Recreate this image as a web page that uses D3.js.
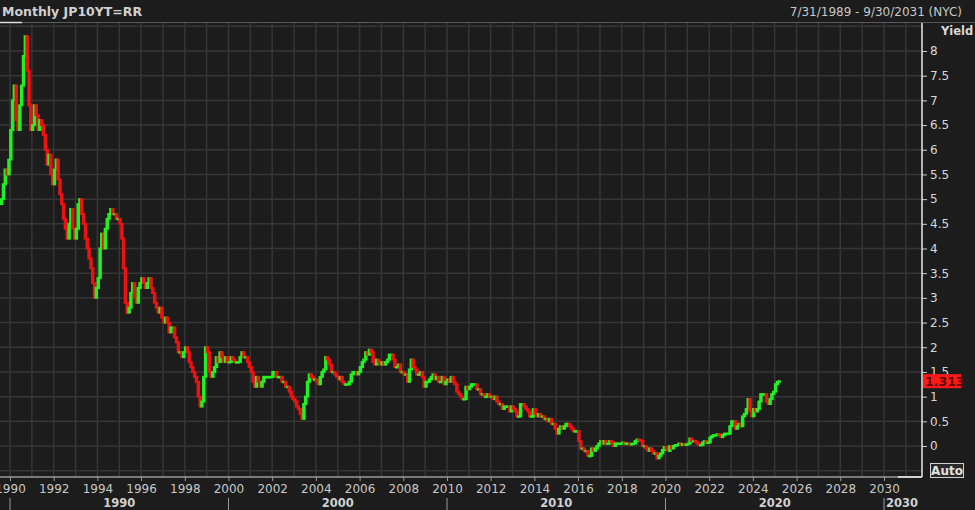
<!DOCTYPE html>
<html><head><meta charset="utf-8">
<script src="https://cdn.jsdelivr.net/npm/d3@7"></script>
<style>body{margin:0;background:#1c1c1c}svg{display:block}text{font-family:"DejaVu Sans",sans-serif}</style>
</head><body><svg id="c" width="975" height="510"></svg>
<script>
const startYear = 1989, startMonth = 7; // Aug 1989 (0-based month)
const closes = [
 5.0,5.3,5.6,5.5,5.8,
 6.4,7.0,7.3,6.6,6.4,6.9,7.3,7.9,8.3,7.6,6.9,6.4,
 6.5,6.9,6.7,6.4,6.6,6.5,6.3,6.0,5.7,5.9,5.5,5.3,
 5.6,5.8,5.4,5.1,4.9,4.6,4.4,4.2,4.5,4.8,4.4,4.2,
 4.4,4.9,5.0,4.7,4.5,4.2,4.0,3.8,3.6,3.3,3.0,3.2,
 3.4,4.0,4.3,4.0,4.4,4.6,4.7,4.8,4.7,4.7,4.6,4.6,
 4.5,4.2,3.6,2.9,2.7,2.8,3.1,3.3,3.0,2.9,3.2,3.3,
 3.4,3.3,3.2,3.3,3.4,3.2,3.1,2.9,2.8,2.7,2.8,2.6,
 2.5,2.6,2.5,2.3,2.4,2.4,2.2,2.1,1.9,1.9,1.8,1.9,
 2.0,1.9,1.7,1.6,1.5,1.4,1.3,1.0,0.8,0.9,1.4,2.0,
 1.9,1.5,1.4,1.5,1.6,1.8,1.7,1.9,1.8,1.7,1.8,1.7,
 1.7,1.8,1.75,1.7,1.7,1.7,1.8,1.9,1.8,1.8,1.7,1.6,
 1.5,1.3,1.2,1.4,1.3,1.2,1.3,1.4,1.4,1.4,1.4,1.4,
 1.5,1.5,1.4,1.4,1.4,1.3,1.3,1.2,1.2,1.1,1.0,0.95,
 0.9,0.8,0.75,0.65,0.55,0.85,1.0,1.3,1.45,1.4,1.35,1.35,
 1.3,1.25,1.4,1.5,1.55,1.8,1.75,1.65,1.5,1.5,1.45,1.4,
 1.35,1.4,1.3,1.25,1.25,1.25,1.3,1.45,1.5,1.5,1.45,1.5,
 1.6,1.7,1.75,1.9,1.85,1.95,1.9,1.7,1.65,1.75,1.7,1.65,
 1.7,1.65,1.7,1.75,1.85,1.85,1.75,1.6,1.6,1.65,1.5,1.5,
 1.45,1.45,1.3,1.55,1.75,1.6,1.55,1.45,1.45,1.5,1.4,1.2,
 1.3,1.3,1.35,1.4,1.45,1.35,1.4,1.3,1.3,1.4,1.25,1.3,
 1.35,1.3,1.4,1.3,1.25,1.1,1.05,1.0,0.95,0.95,1.2,1.15,
 1.2,1.25,1.25,1.25,1.15,1.15,1.05,1.05,1.0,1.0,1.05,1.0,
 1.0,0.95,1.0,0.9,0.85,0.85,0.75,0.8,0.8,0.8,0.7,0.8,
 0.75,0.7,0.6,0.6,0.85,0.85,0.8,0.75,0.7,0.6,0.6,0.75,
 0.65,0.6,0.65,0.6,0.6,0.55,0.55,0.5,0.55,0.45,0.45,0.35,
 0.25,0.35,0.4,0.35,0.4,0.45,0.45,0.4,0.35,0.3,0.3,0.3,
 0.1,-0.05,-0.05,-0.1,-0.1,-0.2,-0.2,-0.05,-0.1,-0.05,0.0,0.05,
 0.1,0.05,0.1,0.05,0.05,0.1,0.08,0.0,0.05,0.05,0.05,0.05,
 0.07,0.05,0.05,0.05,0.03,0.04,0.05,0.1,0.13,0.12,0.1,0.0,
 0.0,-0.05,-0.1,-0.05,-0.1,-0.15,-0.15,-0.25,-0.2,-0.15,-0.08,-0.02,
 -0.05,-0.1,0.0,-0.05,0.0,0.02,0.02,0.05,0.02,0.04,0.02,0.03,
 0.05,0.15,0.1,0.1,0.08,0.05,0.02,0.02,0.07,0.1,0.07,0.07,
 0.17,0.2,0.22,0.22,0.24,0.23,0.18,0.22,0.25,0.25,0.25,0.4,
 0.5,0.5,0.35,0.4,0.45,0.4,0.6,0.65,0.75,0.95,0.7,0.6,
 0.75,0.7,0.75,0.9,1.05,1.05,1.05,0.9,0.85,0.95,1.05,1.1,
 1.25,1.3,1.313
];
const firstOpen = 4.9;
const yTicks = [0,0.5,1,1.5,2,2.5,3,3.5,4,4.5,5,5.5,6,6.5,7,7.5,8];
const yearTicks = [1990,1992,1994,1996,1998,2000,2002,2004,2006,2008,2010,2012,2014,2016,2018,2020,2022,2024,2026,2028,2030];
const decades = [1990,2000,2010,2020,2030];
const lastValue = "1.313";

const svg = d3.select("#c");
svg.append("rect").attr("width",975).attr("height",510).attr("fill","#1c1c1c");
const x = d3.scaleTime().domain([new Date(1990,0,1), new Date(2030,0,1)]).range([10, 884]);
const y = d3.scaleLinear().domain([0, 8]).range([446, 51]);
const plotL = 0, plotR = 922, plotT = 23, plotB = 477;

const g = svg.append("g");
d3.range(1989, 2032).forEach(yr => {
  const xx = x(new Date(yr,0,1));
  if (xx > plotL && xx < plotR) g.append("line").attr("x1",xx).attr("x2",xx).attr("y1",plotT).attr("y2",plotB).attr("stroke","#363636").attr("stroke-width",1.5);
});
d3.range(-0.5, 9, 0.5).forEach(v => {
  const yy = y(v);
  if (yy > plotT && yy < plotB) g.append("line").attr("x1",plotL).attr("x2",plotR).attr("y1",yy).attr("y2",yy).attr("stroke","#363636").attr("stroke-width",1.5);
});

const data = closes.map((c,i) => {
  const d = new Date(startYear, startMonth + i, 15);
  const o = i === 0 ? firstOpen : closes[i-1];
  return {d, o, c};
});
g.selectAll(".cd").data(data).join("rect")
  .attr("x", d => x(d.d) - 1.75).attr("width", 3.5)
  .attr("y", d => y(Math.max(d.o,d.c)) - 1)
  .attr("height", d => Math.max(2.5, Math.abs(y(d.o) - y(d.c)) + 2))
  .attr("fill", d => d.c >= d.o ? "#22f022" : "#ee1111");

svg.append("line").attr("x1",0).attr("x2",975).attr("y1",22.5).attr("y2",22.5).attr("stroke","#5a5a5a");
svg.append("line").attr("x1",0).attr("x2",22).attr("y1",22.5).attr("y2",22.5).attr("stroke","#dddddd").attr("stroke-width",1.5);
svg.append("text").attr("x",2).attr("y",16).attr("fill","#d0d0d0").attr("font-size",12.5).attr("font-weight","bold").text("Monthly JP10YT=RR");
svg.append("text").attr("x",962).attr("y",16).attr("text-anchor","end").attr("fill","#c8c8c8").attr("font-size",12).text("7/31/1989 - 9/30/2031 (NYC)");

const ax = svg.append("g").attr("transform",`translate(${plotR},0)`)
  .call(d3.axisRight(y).tickValues(yTicks).tickFormat(d3.format("~g")).tickSize(5).tickPadding(3));
ax.select(".domain").remove();
ax.selectAll("line").attr("stroke","#d0d0d0");
ax.selectAll("text").attr("fill","#d8d8d8").attr("font-size",12).attr("font-family","DejaVu Sans");
svg.append("line").attr("x1",plotR).attr("x2",plotR).attr("y1",plotT).attr("y2",plotB).attr("stroke","#e8e8e8").attr("stroke-width",1.5);
svg.append("text").attr("x",941).attr("y",35).attr("fill","#d8d8d8").attr("font-size",11.5).attr("font-weight","bold").text("Yield");

const ly = y(+lastValue);
svg.append("rect").attr("x",plotR+1).attr("y",ly-7).attr("width",38).attr("height",14).attr("fill","#ff1a1a");
svg.append("text").attr("x",plotR+3).attr("y",ly+5).attr("fill","#5a0000").attr("font-size",12.5).attr("font-weight","bold").attr("font-family","Liberation Serif").text(lastValue);

svg.append("rect").attr("x",930.5).attr("y",463.5).attr("width",33).attr("height",14).attr("fill","#2a2a2a").attr("stroke","#d0d0d0");
svg.append("text").attr("x",947).attr("y",475).attr("text-anchor","middle").attr("fill","#e0e0e0").attr("font-size",12).attr("font-weight","bold").text("Auto");

svg.append("line").attr("x1",0).attr("x2",plotR).attr("y1",plotB).attr("y2",plotB).attr("stroke","#9a9a9a").attr("stroke-width",1.5);
svg.append("line").attr("x1",898).attr("x2",plotR).attr("y1",plotB).attr("y2",plotB).attr("stroke","#f0f0f0").attr("stroke-width",1.5);
const bx = svg.append("g").attr("transform",`translate(0,${plotB})`)
  .call(d3.axisBottom(x).tickValues(yearTicks.map(v=>new Date(v,0,1))).tickFormat(d3.timeFormat("%Y")).tickSize(4).tickPadding(3));
bx.select(".domain").remove();
bx.selectAll("line").attr("stroke","#9a9a9a");
bx.selectAll("text").attr("fill","#c8c8c8").attr("font-size",12).attr("font-family","DejaVu Sans");

decades.forEach((dc,i) => {
  const xs = x(new Date(dc,0,1));
  svg.append("line").attr("x1",xs).attr("x2",xs).attr("y1",498).attr("y2",510).attr("stroke","#9a9a9a");
  if (i < decades.length-1) {
    const xe = x(new Date(dc+10,0,1));
    svg.append("text").attr("x",(xs+xe)/2).attr("y",507).attr("text-anchor","middle").attr("fill","#d0d0d0").attr("font-size",11.5).attr("font-weight","bold").text(dc);
  } else {
    svg.append("text").attr("x",xs+2).attr("y",507).attr("fill","#d0d0d0").attr("font-size",11.5).attr("font-weight","bold").text(dc);
  }
});
</script></body></html>
